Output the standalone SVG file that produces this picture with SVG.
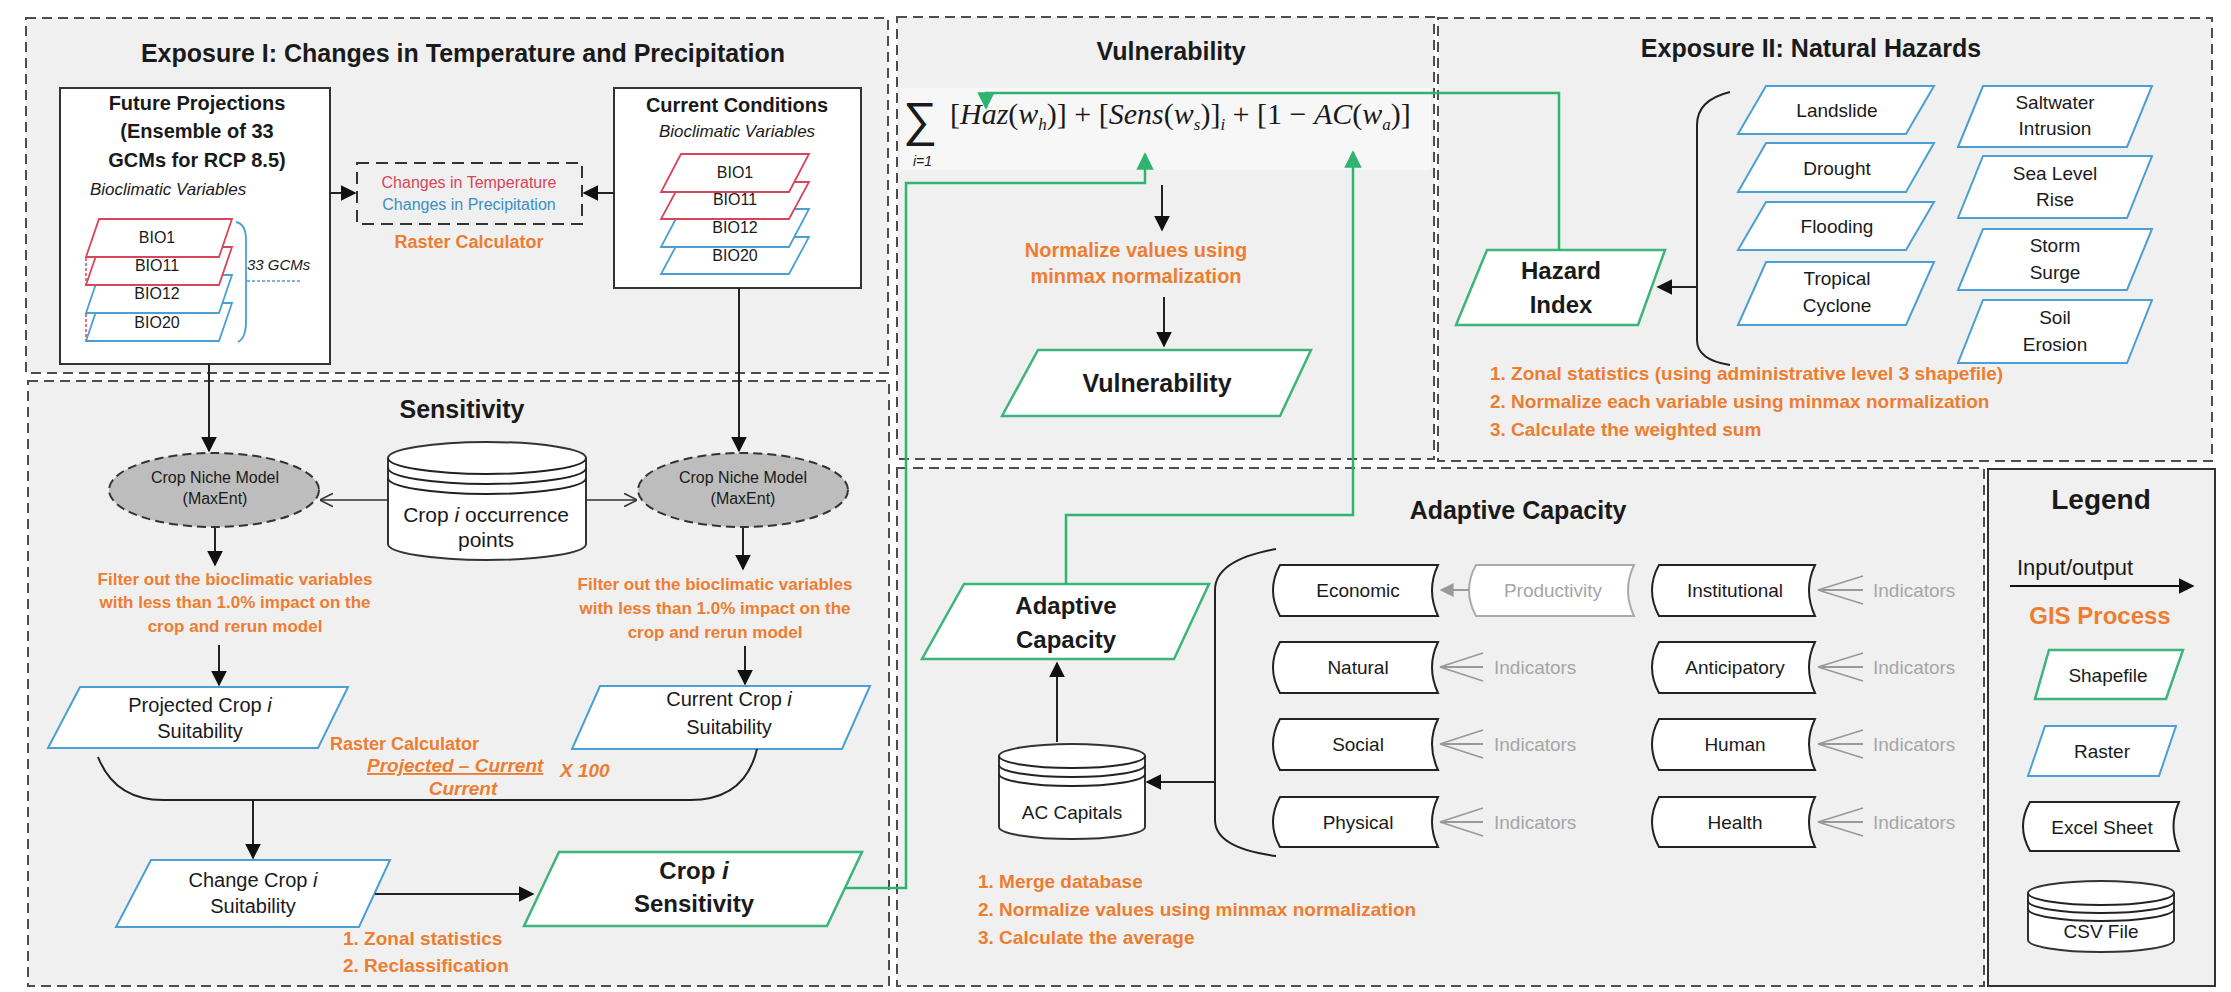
<svg xmlns="http://www.w3.org/2000/svg" width="2231" height="992" viewBox="0 0 2231 992">
<defs>
<style>
text{font-family:"Liberation Sans",Arial,sans-serif;fill:#1a1a1a}
.panel{fill:#f0f0f0;stroke:#4d4d4d;stroke-width:2;stroke-dasharray:10 6}
.box{fill:#fff;stroke:#333;stroke-width:2}
.ras{fill:#fff;stroke:#4a9fd4;stroke-width:2}
.shp{fill:#fff;stroke:#3db57a;stroke-width:2.5}
.xl{fill:#fff;stroke:#222;stroke-width:2}
.ln{fill:none;stroke:#222;stroke-width:2}
.gl{fill:none;stroke:#2eb46e;stroke-width:2.5}
.gy{fill:none;stroke:#999;stroke-width:1.8}
.or{fill:#ED7D31;font-weight:bold}
.t{font-weight:bold;font-size:25px;text-anchor:middle}
.m{text-anchor:middle}
.ind{fill:#a6a6a6;font-size:19px}
.red{fill:#fff;stroke:#d6455a;stroke-width:1.8}
.blu{fill:#fff;stroke:#4a9fd4;stroke-width:1.8}
.fx{font-family:"Liberation Serif",serif;font-size:30px}
</style>
<marker id="a" viewBox="0 0 10 10" refX="9" refY="5" markerWidth="8" markerHeight="8" orient="auto"><path d="M0,0 L10,5 L0,10 z" fill="#111"/></marker>
<marker id="g" viewBox="0 0 10 10" refX="9" refY="5" markerWidth="7" markerHeight="7" orient="auto"><path d="M0,0 L10,5 L0,10 z" fill="#2eb46e"/></marker>
<marker id="gr" viewBox="0 0 10 10" refX="9" refY="5" markerWidth="7" markerHeight="7" orient="auto"><path d="M0,0 L10,5 L0,10 z" fill="#999"/></marker>
<marker id="o" viewBox="0 0 10 10" refX="9" refY="5" markerWidth="9" markerHeight="9" orient="auto"><path d="M0,0 L10,5 L0,10" fill="none" stroke="#333" stroke-width="1.2"/></marker>
</defs>

<g id="panels">
<rect class="panel" x="26" y="18" width="862" height="355"/>
<rect class="panel" x="28" y="381" width="861" height="605"/>
<rect class="panel" x="897" y="17" width="537" height="442"/>
<rect class="panel" x="1438" y="18" width="774" height="443"/>
<rect class="panel" x="897" y="468" width="1087" height="518"/>
<rect x="1988" y="469" width="227" height="517" fill="#f0f0f0" stroke="#333" stroke-width="2"/>
<text class="t" x="463" y="62">Exposure I: Changes in Temperature and Precipitation</text>
<text class="t" x="462" y="418">Sensitivity</text>
<text class="t" x="1171" y="60">Vulnerability</text>
<text class="t" x="1811" y="57">Exposure II: Natural Hazards</text>
<text class="t" x="1518" y="519">Adaptive Capacity</text>
<text class="t" x="2101" y="509" style="font-size:28px">Legend</text>
</g>

<g id="future-projections">
<rect class="box" x="60" y="88" width="270" height="276"/>
<text class="m" x="197" y="110" font-weight="bold" font-size="20">Future Projections</text>
<text class="m" x="197" y="138" font-weight="bold" font-size="20">(Ensemble of 33</text>
<text class="m" x="197" y="167" font-weight="bold" font-size="20">GCMs for RCP 8.5)</text>
<text x="90" y="195" font-style="italic" font-size="17">Bioclimatic Variables</text>
<polygon class="blu" points="99,303 232,303 219,341 86,341"/>
<polygon class="blu" points="99,275 232,275 219,313 86,313"/>
<polygon class="red" points="99,247 232,247 219,285 86,285"/>
<polygon class="red" points="99,219 232,219 219,257 86,257"/>
<text class="m" x="157" y="243" font-size="16">BIO1</text>
<text class="m" x="157" y="271" font-size="16">BIO11</text>
<text class="m" x="157" y="299" font-size="16">BIO12</text>
<text class="m" x="157" y="328" font-size="16">BIO20</text>
<path d="M86,258 V284 M86,314 V340" stroke="#d6455a" stroke-width="1.5" stroke-dasharray="3 2" fill="none"/>
<path d="M236,222 Q246,224 246,240 V322 Q246,338 238,342" fill="none" stroke="#4a9fd4" stroke-width="1.8"/>
<text x="247" y="270" font-style="italic" font-size="15">33 GCMs</text>
<line x1="247" y1="281" x2="302" y2="281" stroke="#4a9fd4" stroke-width="1.5" stroke-dasharray="3 2"/>
</g>

<g id="current-conditions">
<rect class="box" x="614" y="88" width="247" height="200"/>
<text class="m" x="737" y="112" font-weight="bold" font-size="20">Current Conditions</text>
<text class="m" x="737" y="137" font-style="italic" font-size="17">Bioclimatic Variables</text>
<polygon class="blu" points="681,237 809,237 789,274 661,274"/>
<polygon class="blu" points="681,209 809,209 789,247 661,247"/>
<polygon class="red" points="681,182 809,182 789,219 661,219"/>
<polygon class="red" points="681,154 809,154 789,192 661,192"/>
<text class="m" x="735" y="178" font-size="16">BIO1</text>
<text class="m" x="735" y="205" font-size="16">BIO11</text>
<text class="m" x="735" y="233" font-size="16">BIO12</text>
<text class="m" x="735" y="261" font-size="16">BIO20</text>
</g>

<g id="changes">
<rect x="357" y="163" width="225" height="61" fill="none" stroke="#333" stroke-width="2" stroke-dasharray="12 7"/>
<text class="m" x="469" y="188" font-size="16" style="fill:#d6455a">Changes in Temperature</text>
<text class="m" x="469" y="210" font-size="16" style="fill:#3a8fc4">Changes in Precipitation</text>
<text class="m or" x="469" y="248" font-size="18">Raster Calculator</text>
</g>

<g id="niche-left">
<ellipse cx="214" cy="490" rx="105" ry="37" fill="#bdbdbd" stroke="#333" stroke-width="2" stroke-dasharray="9 5"/>
<text class="m" x="215" y="483" font-size="16">Crop Niche Model</text>
<text class="m" x="215" y="504" font-size="16">(MaxEnt)</text>
</g>
<g id="niche-right">
<ellipse cx="743" cy="490" rx="105" ry="37" fill="#bdbdbd" stroke="#333" stroke-width="2" stroke-dasharray="9 5"/>
<text class="m" x="743" y="483" font-size="16">Crop Niche Model</text>
<text class="m" x="743" y="504" font-size="16">(MaxEnt)</text>
</g>
<g id="occurrence">
<path class="box" d="M388,458 A99,16 0 0 1 586,458 V544 A99,16 0 0 1 388,544 Z"/>
<path class="ln" d="M388,458 A99,16 0 0 0 586,458 M388,468 A99,16 0 0 0 586,468 M388,478 A99,16 0 0 0 586,478"/>
<text class="m" x="486" y="522" font-size="21">Crop <tspan font-style="italic">i</tspan> occurrence</text>
<text class="m" x="486" y="547" font-size="21">points</text>
</g>
<g id="filter-texts">
<text class="m or" x="235" y="585" font-size="17">Filter out the bioclimatic variables</text>
<text class="m or" x="235" y="608" font-size="17">with less than 1.0% impact on the</text>
<text class="m or" x="235" y="632" font-size="17">crop and rerun model</text>
<text class="m or" x="715" y="590" font-size="17">Filter out the bioclimatic variables</text>
<text class="m or" x="715" y="614" font-size="17">with less than 1.0% impact on the</text>
<text class="m or" x="715" y="638" font-size="17">crop and rerun model</text>
</g>
<g id="projected">
<polygon class="ras" points="80,687 348,687 318,748 48,748"/>
<text class="m" x="200" y="712" font-size="20">Projected Crop <tspan font-style="italic">i</tspan></text>
<text class="m" x="200" y="738" font-size="20">Suitability</text>
</g>
<g id="current-suit">
<polygon class="ras" points="600,686 870,686 842,749 572,749"/>
<text class="m" x="729" y="706" font-size="20">Current Crop <tspan font-style="italic">i</tspan></text>
<text class="m" x="729" y="734" font-size="20">Suitability</text>
</g>
<g id="raster-calc2">
<text class="or" x="330" y="750" font-size="18">Raster Calculator</text>
<text class="or" x="367" y="772" font-size="19" font-style="italic" text-decoration="underline">Projected – Current</text>
<text class="or" x="560" y="777" font-size="19" font-style="italic">X 100</text>
<text class="m or" x="463" y="795" font-size="19" font-style="italic">Current</text>
</g>
<g id="change-suit">
<polygon class="ras" points="151,860 390,860 359,927 116,927"/>
<text class="m" x="253" y="887" font-size="20">Change Crop <tspan font-style="italic">i</tspan></text>
<text class="m" x="253" y="913" font-size="20">Suitability</text>
<text class="or" x="343" y="945" font-size="19">1. Zonal statistics</text>
<text class="or" x="343" y="972" font-size="19">2. Reclassification</text>
</g>
<g id="crop-sensitivity">
<polygon class="shp" points="559,852 862,852 827,926 524,926"/>
<text class="m" x="694" y="879" font-size="24" font-weight="bold">Crop <tspan font-style="italic">i</tspan></text>
<text class="m" x="694" y="912" font-size="24" font-weight="bold">Sensitivity</text>
</g>

<g id="formula">
<rect x="900" y="88" width="531" height="82" fill="#f7f7f7"/>
<text x="903" y="136" font-family="Liberation Serif,serif" font-size="48">∑</text>
<text x="913" y="166" font-family="Liberation Serif,serif" font-size="14" font-style="italic">i=1</text>
<text class="fx" x="950" y="124">[<tspan font-style="italic">Haz</tspan>(<tspan font-style="italic">w</tspan><tspan font-size="17" font-style="italic" dy="6">h</tspan><tspan dy="-6">)] + [</tspan><tspan font-style="italic">Sens</tspan>(<tspan font-style="italic">w</tspan><tspan font-size="17" font-style="italic" dy="6">s</tspan><tspan dy="-6">)]</tspan><tspan font-size="17" font-style="italic" dy="6">i</tspan><tspan dy="-6"> + [1 − </tspan><tspan font-style="italic">AC</tspan>(<tspan font-style="italic">w</tspan><tspan font-size="17" font-style="italic" dy="6">a</tspan><tspan dy="-6">)]</tspan></text>
</g>
<g id="normalize">
<text class="m or" x="1136" y="257" font-size="20">Normalize values using</text>
<text class="m or" x="1136" y="283" font-size="20">minmax normalization</text>
</g>
<g id="vulnerability">
<polygon class="shp" points="1038,350 1311,350 1280,416 1002,416"/>
<text class="m" x="1157" y="392" font-size="25" font-weight="bold">Vulnerability</text>
</g>

<g id="hazard-index">
<polygon class="shp" points="1487,250 1665,250 1638,325 1456,325"/>
<text class="m" x="1561" y="279" font-size="24" font-weight="bold">Hazard</text>
<text class="m" x="1561" y="313" font-size="24" font-weight="bold">Index</text>
</g>
<g id="hazards">
<polygon class="ras" points="1766,86 1934,86 1906,134 1738,134"/><text class="m" x="1837" y="117" font-size="19">Landslide</text>
<polygon class="ras" points="1766,143 1934,143 1906,192 1738,192"/><text class="m" x="1837" y="175" font-size="19">Drought</text>
<polygon class="ras" points="1766,202 1934,202 1906,250 1738,250"/><text class="m" x="1837" y="233" font-size="19">Flooding</text>
<polygon class="ras" points="1766,262 1934,262 1906,325 1738,325"/><text class="m" x="1837" y="285" font-size="19">Tropical</text><text class="m" x="1837" y="312" font-size="19">Cyclone</text>
<polygon class="ras" points="1983,86 2152,86 2127,147 1958,147"/><text class="m" x="2055" y="109" font-size="19">Saltwater</text><text class="m" x="2055" y="135" font-size="19">Intrusion</text>
<polygon class="ras" points="1983,156 2152,156 2127,218 1958,218"/><text class="m" x="2055" y="180" font-size="19">Sea Level</text><text class="m" x="2055" y="206" font-size="19">Rise</text>
<polygon class="ras" points="1983,229 2152,229 2127,290 1958,290"/><text class="m" x="2055" y="252" font-size="19">Storm</text><text class="m" x="2055" y="279" font-size="19">Surge</text>
<polygon class="ras" points="1983,300 2152,300 2127,363 1958,363"/><text class="m" x="2055" y="324" font-size="19">Soil</text><text class="m" x="2055" y="351" font-size="19">Erosion</text>
</g>
<g id="hazard-notes">
<text class="or" x="1490" y="380" font-size="19">1. Zonal statistics (using administrative level 3 shapefile)</text>
<text class="or" x="1490" y="408" font-size="19">2. Normalize each variable using minmax normalization</text>
<text class="or" x="1490" y="436" font-size="19">3. Calculate the weighted sum</text>
</g>

<g id="adaptive-capacity">
<polygon class="shp" points="964,584 1209,584 1174,659 922,659"/>
<text class="m" x="1066" y="614" font-size="24" font-weight="bold">Adaptive</text>
<text class="m" x="1066" y="648" font-size="24" font-weight="bold">Capacity</text>
</g>
<g id="ac-capitals">
<path class="box" d="M999,756 A73,12 0 0 1 1145,756 V827 A73,12 0 0 1 999,827 Z"/>
<path class="ln" d="M999,756 A73,12 0 0 0 1145,756 M999,765 A73,12 0 0 0 1145,765 M999,774 A73,12 0 0 0 1145,774"/>
<text class="m" x="1072" y="819" font-size="19">AC Capitals</text>
</g>
<g id="capitals">
<path class="xl" d="M1280,565 H1438 Q1426,590 1438,616 H1280 Q1266,590 1280,565 Z"/><text class="m" x="1358" y="597" font-size="19">Economic</text>
<path class="xl" d="M1280,642 H1438 Q1426,667 1438,693 H1280 Q1266,667 1280,642 Z"/><text class="m" x="1358" y="674" font-size="19">Natural</text>
<path class="xl" d="M1280,719 H1438 Q1426,744 1438,770 H1280 Q1266,744 1280,719 Z"/><text class="m" x="1358" y="751" font-size="19">Social</text>
<path class="xl" d="M1280,797 H1438 Q1426,822 1438,847 H1280 Q1266,822 1280,797 Z"/><text class="m" x="1358" y="829" font-size="19">Physical</text>
<path d="M1476,565 H1634 Q1622,590 1634,616 H1476 Q1462,590 1476,565 Z" fill="#fff" stroke="#aaa" stroke-width="2"/><text class="m" x="1553" y="597" font-size="19" style="fill:#a6a6a6">Productivity</text>
<path class="xl" d="M1659,565 H1815 Q1803,590 1815,616 H1659 Q1645,590 1659,565 Z"/><text class="m" x="1735" y="597" font-size="19">Institutional</text>
<path class="xl" d="M1659,642 H1815 Q1803,667 1815,693 H1659 Q1645,667 1659,642 Z"/><text class="m" x="1735" y="674" font-size="19">Anticipatory</text>
<path class="xl" d="M1659,719 H1815 Q1803,744 1815,770 H1659 Q1645,744 1659,719 Z"/><text class="m" x="1735" y="751" font-size="19">Human</text>
<path class="xl" d="M1659,797 H1815 Q1803,822 1815,847 H1659 Q1645,822 1659,797 Z"/><text class="m" x="1735" y="829" font-size="19">Health</text>
<text class="ind" x="1494" y="674">Indicators</text>
<text class="ind" x="1494" y="751">Indicators</text>
<text class="ind" x="1494" y="829">Indicators</text>
<text class="ind" x="1873" y="597">Indicators</text>
<text class="ind" x="1873" y="674">Indicators</text>
<text class="ind" x="1873" y="751">Indicators</text>
<text class="ind" x="1873" y="829">Indicators</text>
<path class="gy" d="M1483,653 L1440,667 L1483,667 M1440,667 L1483,681 M1483,730 L1440,744 L1483,744 M1440,744 L1483,758 M1483,808 L1440,822 L1483,822 M1440,822 L1483,836 M1863,576 L1818,590 L1863,590 M1818,590 L1863,604 M1863,653 L1818,667 L1863,667 M1818,667 L1863,681 M1863,730 L1818,744 L1863,744 M1818,744 L1863,758 M1863,808 L1818,822 L1863,822 M1818,822 L1863,836"/>
</g>
<g id="ac-notes">
<text class="or" x="978" y="888" font-size="19">1. Merge database</text>
<text class="or" x="978" y="916" font-size="19">2. Normalize values using minmax normalization</text>
<text class="or" x="978" y="944" font-size="19">3. Calculate the average</text>
</g>

<g id="legend">
<text x="2017" y="575" font-size="22">Input/output</text>
<line x1="2010" y1="586" x2="2193" y2="586" stroke="#111" stroke-width="2" marker-end="url(#a)"/>
<text class="m or" x="2100" y="624" font-size="24">GIS Process</text>
<polygon class="shp" points="2049,650 2183,650 2166,699 2035,699"/><text class="m" x="2108" y="682" font-size="19">Shapefile</text>
<polygon class="ras" points="2045,726 2176,726 2159,776 2028,776"/><text class="m" x="2102" y="758" font-size="19">Raster</text>
<path class="xl" d="M2030,802 H2179 Q2168,826 2179,851 H2030 Q2016,826 2030,802 Z"/><text class="m" x="2102" y="834" font-size="19">Excel Sheet</text>
<path class="box" d="M2028,893 A73,12 0 0 1 2174,893 V940 A73,12 0 0 1 2028,940 Z"/>
<path class="ln" d="M2028,893 A73,12 0 0 0 2174,893 M2028,901 A73,12 0 0 0 2174,901 M2028,909 A73,12 0 0 0 2174,909"/>
<text class="m" x="2101" y="938" font-size="19">CSV File</text>
</g>

<g id="connectors">
<line class="ln" x1="330" y1="193" x2="355" y2="193" marker-end="url(#a)"/>
<line class="ln" x1="614" y1="193" x2="584" y2="193" marker-end="url(#a)"/>
<line class="ln" x1="209" y1="364" x2="209" y2="451" marker-end="url(#a)"/>
<line class="ln" x1="739" y1="288" x2="739" y2="451" marker-end="url(#a)"/>
<line x1="388" y1="500" x2="321" y2="500" stroke="#333" stroke-width="1.5" marker-end="url(#o)"/>
<line x1="586" y1="500" x2="636" y2="500" stroke="#333" stroke-width="1.5" marker-end="url(#o)"/>
<line class="ln" x1="215" y1="528" x2="215" y2="565" marker-end="url(#a)"/>
<line class="ln" x1="743" y1="528" x2="743" y2="569" marker-end="url(#a)"/>
<line class="ln" x1="219" y1="645" x2="219" y2="685" marker-end="url(#a)"/>
<line class="ln" x1="745" y1="646" x2="745" y2="684" marker-end="url(#a)"/>
<path class="ln" d="M98,757 Q115,800 163,800 H690 Q745,800 757,749"/>
<line class="ln" x1="253" y1="800" x2="253" y2="858" marker-end="url(#a)"/>
<line class="ln" x1="375" y1="894" x2="533" y2="894" marker-end="url(#a)"/>
<line class="ln" x1="1162" y1="185" x2="1162" y2="230" marker-end="url(#a)"/>
<line class="ln" x1="1164" y1="297" x2="1164" y2="346" marker-end="url(#a)"/>
<path class="gl" d="M845,888 H906 V183 H1145 V154" marker-end="url(#g)"/>
<path class="gl" d="M1559,250 V93 H986 V108" marker-end="url(#g)"/>
<path class="gl" d="M1066,584 V515 H1353 V152" marker-end="url(#g)"/>
<path class="ln" d="M1730,92 Q1697,100 1697,125 V340 Q1697,360 1730,365"/>
<line class="ln" x1="1697" y1="287" x2="1658" y2="287" marker-end="url(#a)"/>
<path class="ln" d="M1276,549 Q1215,560 1215,590 V820 Q1215,848 1276,856"/>
<line class="ln" x1="1215" y1="782" x2="1147" y2="782" marker-end="url(#a)"/>
<line class="ln" x1="1057" y1="742" x2="1057" y2="663" marker-end="url(#a)"/>
<line x1="1469" y1="590" x2="1441" y2="590" stroke="#999" stroke-width="2" marker-end="url(#gr)"/>
</g>
</svg>
